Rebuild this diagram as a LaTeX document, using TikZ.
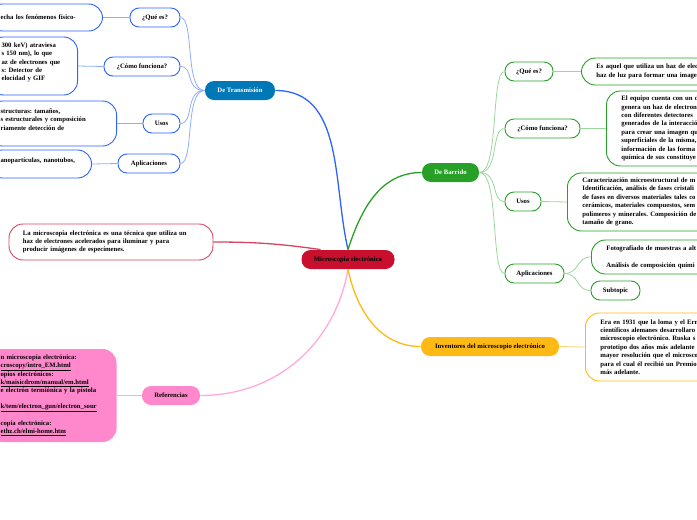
\documentclass[tikz,border=0pt]{standalone}
\usepackage{fontspec}
\setmainfont{Liberation Serif}
\usepackage{xcolor}
\usepackage{tikz}
\usetikzlibrary{positioning}
\definecolor{rootred}{RGB}{200, 16, 46}
\definecolor{defred}{RGB}{212, 70, 96}
\definecolor{temblue}{RGB}{0, 119, 182}
\definecolor{lineblue}{RGB}{45, 100, 250}
\definecolor{paleblue}{RGB}{140, 175, 255}
\definecolor{semgreen}{RGB}{40, 160, 40}
\definecolor{palegreen}{RGB}{155, 215, 155}
\definecolor{refpink}{RGB}{255, 136, 204}
\definecolor{palepink}{RGB}{255, 170, 218}
\definecolor{invyellow}{RGB}{255, 185, 20}
\definecolor{paleyellow}{RGB}{255, 210, 110}
\frenchspacing

\begin{document}
\begin{tikzpicture}[x=1pt, y=-1pt]
    \tikzstyle{pill} = [rounded corners=9pt, minimum height=19pt, inner sep=0pt, line width=0.9pt, font=\fontsize{6.7}{8.4}\selectfont\bfseries]
    \tikzstyle{tbox} = [rounded corners=14pt, inner ysep=0pt, line width=0.9pt, align=left, font=\fontsize{6.7}{8.4}\selectfont\bfseries]
    \tikzstyle{mainline} = [line width=1.3pt]
    \tikzstyle{subline} = [line width=0.8pt]

    \path[use as bounding box] (0,0) rectangle (697,520);
    \clip (0,0) rectangle (697,520);

    % centre and definition
    \node[pill, fill=rootred, minimum width=93pt] (root) at (348,259.5) {Microscopia electrónica};
    \node[tbox, draw=defred, fill=white, minimum width=204pt, minimum height=36pt, text width=176pt, inner xsep=14pt] (def) at (111,242) {La microscopía electrónica es una técnica que utiliza un\\ haz de electrones acelerados para iluminar y para\\ producir imágenes de especímenes.};

    % transmission branch
    \node[pill, fill=temblue, text=white, minimum width=70pt] (tem) at (240,90.5) {De Transmisión};
    \node[pill, draw=lineblue, fill=white, minimum width=50pt] (temq) at (155,17.5) {¿Qué es?};
    \node[pill, draw=lineblue, fill=white, minimum width=76pt] (temc) at (142,66.5) {¿Cómo funciona?};
    \node[pill, draw=lineblue, fill=white, minimum width=37pt] (temu) at (161.5,123.5) {Usos};
    \node[pill, draw=lineblue, fill=white, minimum width=62pt] (tema) at (149,163.5) {Aplicaciones};

    \node[tbox, draw=lineblue, fill=white, anchor=east, minimum height=27pt, text width=90pt, inner xsep=12pt] (tq) at (103,17.5) {echa los fenómenos físico-};
    \node[tbox, draw=lineblue, fill=white, anchor=east, minimum height=58pt, text width=64pt, inner xsep=12pt] (tc) at (78,66) {300 keV) atraviesa\\ s 150 nm), lo que\\ az de electrones que\\ s: Detector de\\ elocidad y GIF\\ \mbox{}};
    \node[tbox, draw=lineblue, fill=white, anchor=east, minimum height=45pt, text width=104pt, inner xsep=12pt] (tu) at (117,123.5) {structuras: tamaños,\\ s estructurales y composición\\ riamente detección de\\ \mbox{}};
    \node[tbox, draw=lineblue, fill=white, anchor=east, minimum height=28pt, text width=79pt, inner xsep=12pt] (ta) at (92,164) {anopartículas, nanotubos,\\ \mbox{}};

    % scanning branch
    \node[pill, fill=semgreen, text=white, minimum width=57pt] (sem) at (450.5,172.5) {De Barrido};
    \node[pill, draw=semgreen, fill=white, minimum width=48pt] (semq) at (529,71.5) {¿Qué es?};
    \node[pill, draw=semgreen, fill=white, minimum width=75pt] (semc) at (542.5,128.5) {¿Cómo funciona?};
    \node[pill, draw=semgreen, fill=white, minimum width=36pt] (semu) at (523,201.5) {Usos};
    \node[pill, draw=semgreen, fill=white, minimum width=59pt] (sema) at (534.5,273.5) {Aplicaciones};
    \node[pill, draw=semgreen, fill=white, minimum width=49pt] (sems) at (615.5,290.5) {Subtopic};

    \node[tbox, draw=semgreen, fill=white, anchor=west, minimum height=27pt, text width=200pt, inner xsep=15pt] (sq) at (581,71.5) {Es aquel que utiliza un haz de elec\\ haz de luz para formar una imagen};
    \node[tbox, draw=semgreen, fill=white, anchor=west, minimum height=75pt, text width=200pt, inner xsep=15pt] (sc) at (606,128.5) {El equipo cuenta con un d\\ genera un haz de electron\\ con diferentes detectores\\ generados de la interacció\\ para crear una imagen qu\\ superficiales de la misma,\\ información de las forma\\ química de sus constituye};
    \node[tbox, draw=semgreen, fill=white, anchor=west, minimum height=58pt, text width=200pt, inner xsep=15pt] (su) at (567,202) {Caracterización microestructural de m\\ Identificación, análisis de fases cristali\\ de fases en diversos materiales tales co\\ cerámicos, materiales compuestos, sem\\ polímeros y minerales. Composición de\\ tamaño de grano.};
    \node[tbox, draw=semgreen, fill=white, anchor=west, minimum height=34pt, text width=200pt, inner xsep=15pt] (sa) at (591,257) {Fotografiado de muestras a alt\\[8.4pt] Análisis de composición quími};

    % inventors
    \node[pill, fill=invyellow, minimum width=138pt] (inv) at (490,346.5) {Inventores del microscopio electrónico};
    \node[tbox, draw=invyellow, fill=white, anchor=west, minimum height=68pt, text width=200pt, inner xsep=15pt] (invt) at (585,347) {Era en 1931 que la loma y el Ern\\ científicos alemanes desarrollaro\\ microscopio electrónico. Ruska s\\ prototipo dos años más adelante\\ mayor resolución que el microsco\\ para el cual él recibió un Premio\\ más adelante.};

    % references
    \node[pill, fill=refpink, minimum width=58pt] (ref) at (171,395.5) {Referencias};
    \node[tbox, fill=refpink, anchor=east, minimum height=93pt, text width=104pt, inner xsep=12pt, font=\fontsize{6.7}{8}\selectfont\bfseries] (reft) at (117,395.5) {n microscopía electrónica:\\ \underline{croscopy/intro\_EM.html}\\ opios electrónicos:\\ \underline{k/maisicdrom/manual/em.html}\\ e electrón termiónica y la pistola\\[8pt] \underline{k/tem/electron\_gun/electron\_sour}\\[8pt] copia electrónica:\\ \underline{ethz.ch/elmi-home.htm}};

    \draw[mainline, lineblue] (root.north) to[out=103, in=0] (tem.east);
    \draw[mainline, semgreen] (root.north) to[out=72, in=180] (sem.west);
    \draw[mainline, defred] (root.160) to[out=172, in=0] (def.east);
    \draw[mainline, palepink] (root.south) to[out=-100, in=0] (ref.east);
    \draw[mainline, invyellow] (root.south) to[out=-78, in=180] (inv.west);

    \foreach \n in {temq, temc, temu, tema}
        \draw[subline, paleblue] (tem.west) .. controls +(-20,0) and +(14,0) .. (\n.east);
    \foreach \n in {semq, semc, semu, sema}
        \draw[subline, palegreen] (sem.east) .. controls +(20,0) and +(-14,0) .. (\n.west);
    \draw[subline, palegreen] (sema.east) .. controls +(15,0) and +(-15,0) .. (sa.west);
    \draw[subline, palegreen] (sema.east) .. controls +(15,0) and +(-15,0) .. (sems.west);

    \draw[subline, paleblue] (temq) -- (tq);
    \draw[subline, paleblue] (temc.west) -- (tc.east);
    \draw[subline, paleblue] (temu.west) -- (tu.east);
    \draw[subline, paleblue] (tema.west) -- (ta.east);
    \draw[subline, palegreen] (semq.east) -- (sq.west);
    \draw[subline, palegreen] (semc.east) -- (sc.west);
    \draw[subline, palegreen] (semu.east) -- (su.west);
    \draw[subline, paleyellow] (inv.east) -- (invt.west);
    \draw[subline, palepink] (ref.west) -- (reft.east);
\end{tikzpicture}
\end{document}
